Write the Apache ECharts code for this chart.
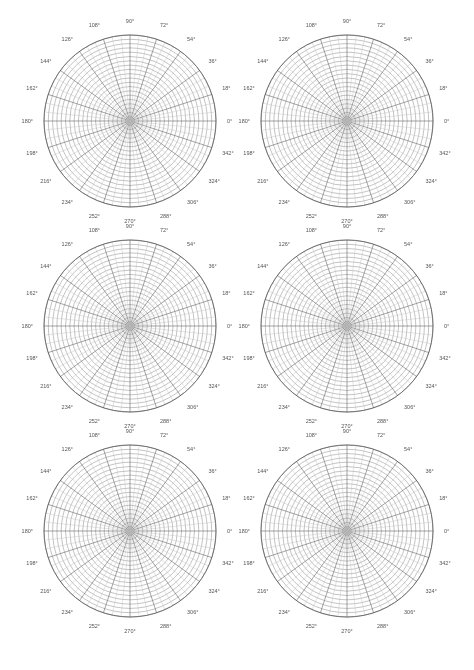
<!DOCTYPE html>
<html><head><meta charset="utf-8">
<script src="https://cdn.jsdelivr.net/npm/echarts@6/dist/echarts.min.js"></script>
<style>html,body{margin:0;background:#fff}#c{width:474px;height:670px}</style>
</head><body><div id="c"></div>
<script>
const centersX = [130, 347];
const centersY = [121, 326, 531];
const angleTicks = [0, 18, 36, 54, 72, 90, 108, 126, 144, 162, 180, 198, 216, 234, 252, 270, 288, 306, 324, 342];
const ringCount = 20;

const chart = echarts.init(document.getElementById('c'));
const polar = [], angleAxis = [], radiusAxis = [], series = [];
let i = 0;
centersY.forEach(y => {
    centersX.forEach(x => {
        polar.push({ center: [x, y], radius: 86 });
        angleAxis.push({
            polarIndex: i, type: 'value', min: 0, max: 360, interval: 18,
            startAngle: 0, clockwise: false,
            axisLine: { lineStyle: { color: '#555', width: 0.8 } },
            axisTick: { show: false },
            axisLabel: { margin: 11, fontSize: 5.5, color: '#555', fontFamily: 'Liberation Sans',
                formatter: v => angleTicks.includes(v) ? v + '°' : '' },
            splitLine: { show: true, lineStyle: { color: '#666', width: 0.6 } },
            minorTick: { show: false, splitNumber: 3 },
            minorSplitLine: { show: true, lineStyle: { color: '#bbb', width: 0.4 } }
        });
        radiusAxis.push({
            polarIndex: i, type: 'value', min: 0, max: ringCount, interval: 1,
            axisLine: { show: false }, axisTick: { show: false }, axisLabel: { show: false },
            splitLine: { show: true, lineStyle: { color: '#888', width: 0.5 } }
        });
        series.push({ type: 'scatter', coordinateSystem: 'polar', polarIndex: i, data: [] });
        i++;
    });
});
chart.setOption({ animation: false, polar, angleAxis, radiusAxis, series });
</script></body></html>
